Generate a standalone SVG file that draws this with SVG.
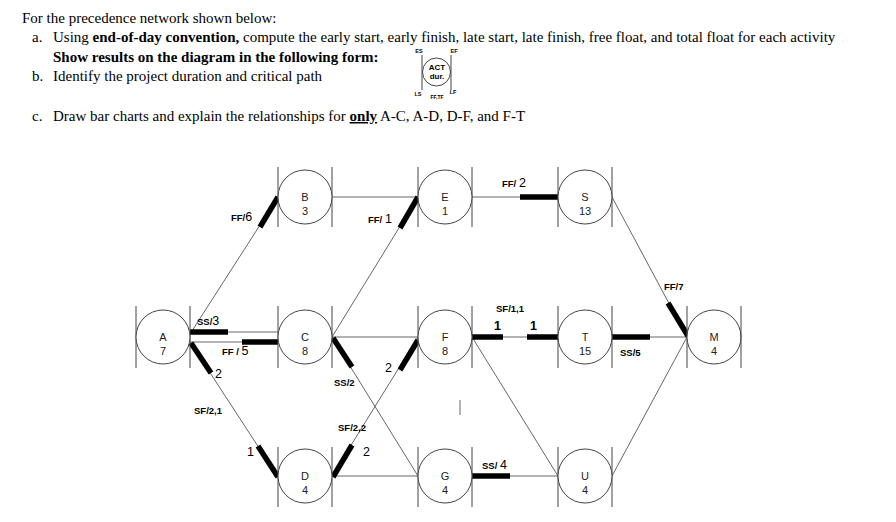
<svg xmlns="http://www.w3.org/2000/svg" width="896" height="522" viewBox="0 0 896 522">
<style>
.t{font-family:"Liberation Serif",serif;font-size:15px;fill:#000}
.b{font-weight:bold}
.c{fill:#fff;stroke:#444;stroke-width:1}
.v{stroke:#444;stroke-width:1}
.n{font-family:"Liberation Sans",Arial,sans-serif;font-size:11px;text-anchor:middle;fill:#222}
.l{stroke:#555;stroke-width:0.9;fill:none}
.k{stroke:#000;stroke-width:5.5;stroke-linecap:butt}
.lb{font-family:"Liberation Sans",Arial,sans-serif;font-size:9.5px;font-weight:bold;fill:#000}
.d{font-family:"Liberation Sans",Arial,sans-serif;font-size:12.5px;fill:#000}
.g{font-family:"Liberation Sans",Arial,sans-serif;font-weight:bold;fill:#000}
</style>
<rect width="896" height="522" fill="#fff"/>
<g id="header">
<text class="t" x="22" y="23">For the precedence network shown below:</text>
<text class="t" x="32" y="42">a.</text>
<text class="t" x="53" y="42">Using <tspan class="b">end-of-day convention,</tspan> compute the early start, early finish, late start, late finish, free float, and total float for each activity</text>
<text class="t b" x="53" y="62">Show results on the diagram in the following form:</text>
<text class="t" x="32" y="81">b.</text>
<text class="t" x="53" y="81">Identify the project duration and critical path</text>
<text class="t" x="32" y="121">c.</text>
<text class="t" x="53" y="121">Draw bar charts and explain the relationships for <tspan class="b" text-decoration="underline">only</tspan> A-C, A-D, D-F, and F-T</text>
</g>
<g id="legend">
<line class="v" x1="422" y1="55" x2="422" y2="90"/>
<line class="v" x1="451" y1="55" x2="451" y2="90"/>
<circle class="c" cx="436.5" cy="72" r="14"/>
<text class="g" x="437" y="70" font-size="8" text-anchor="middle">ACT</text>
<text class="g" x="437" y="79" font-size="8" text-anchor="middle">dur.</text>
<text class="g" x="419" y="53" font-size="5.5" text-anchor="middle">ES</text>
<text class="g" x="454" y="53" font-size="5.5" text-anchor="middle">EF</text>
<text class="g" x="418" y="96" font-size="5.5" text-anchor="middle">LS</text>
<text class="g" x="453" y="94" font-size="5.5" text-anchor="middle">LF</text>
<text class="g" x="437" y="99" font-size="5" text-anchor="middle">FF,TF</text>
</g>
<g id="connectors">
<line class="l" x1="190" y1="334" x2="278" y2="197"/>
<line class="l" x1="190" y1="332" x2="278" y2="332"/>
<line class="l" x1="190" y1="342" x2="278" y2="342"/>
<line class="l" x1="190" y1="342" x2="278" y2="477"/>
<line class="l" x1="332" y1="197" x2="418" y2="197"/>
<line class="l" x1="332" y1="337" x2="418" y2="197"/>
<line class="l" x1="332" y1="337" x2="418" y2="337"/>
<line class="l" x1="332" y1="337" x2="418" y2="476"/>
<line class="l" x1="332" y1="476" x2="418" y2="337"/>
<line class="l" x1="332" y1="476" x2="418" y2="476"/>
<line class="l" x1="472" y1="197" x2="558" y2="197"/>
<line class="l" x1="472" y1="337" x2="558" y2="337"/>
<line class="l" x1="472" y1="337" x2="558" y2="476"/>
<line class="l" x1="472" y1="476" x2="558" y2="476"/>
<line class="l" x1="612" y1="197" x2="687" y2="337"/>
<line class="l" x1="612" y1="337" x2="687" y2="337"/>
<line class="l" x1="612" y1="476" x2="687" y2="337"/>
<line class="l" x1="460" y1="400" x2="460" y2="415"/>
<line class="k" x1="260" y1="227" x2="278" y2="197"/>
<line class="k" x1="190" y1="332" x2="228" y2="332"/>
<line class="k" x1="242" y1="342" x2="278" y2="342"/>
<line class="k" x1="191" y1="343" x2="211" y2="373"/>
<line class="k" x1="258" y1="446" x2="278" y2="477"/>
<line class="k" x1="400" y1="228" x2="418" y2="197"/>
<line class="k" x1="333" y1="338" x2="352" y2="367"/>
<line class="k" x1="400" y1="370" x2="418" y2="340"/>
<line class="k" x1="333" y1="477" x2="352" y2="445"/>
<line class="k" x1="520" y1="197" x2="558" y2="197"/>
<line class="k" x1="465" y1="337" x2="503" y2="337"/>
<line class="k" x1="527" y1="337" x2="563" y2="337"/>
<line class="k" x1="472" y1="476" x2="510" y2="476"/>
<line class="k" x1="668" y1="303" x2="688" y2="336"/>
<line class="k" x1="612" y1="337" x2="650" y2="337"/>
<text class="lb" x="231" y="221">FF/<tspan class="d" font-size="13.5" font-weight="normal">6</tspan></text>
<text class="lb" x="197" y="325">SS/<tspan class="d" font-weight="normal">3</tspan></text>
<text class="lb" x="222" y="355">FF / <tspan class="d" font-weight="normal">5</tspan></text>
<text class="d" x="215" y="378">2</text>
<text class="lb" x="194" y="414">SF/2,1</text>
<text class="d" x="247" y="456">1</text>
<text class="lb" x="368" y="223">FF/ <tspan class="d" font-weight="normal">1</tspan></text>
<text class="d" x="385" y="372">2</text>
<text class="lb" x="334" y="386">SS/2</text>
<text class="lb" x="338" y="431">SF/2,2</text>
<text class="d" x="363" y="456">2</text>
<text class="lb" x="502" y="187">FF/ <tspan class="d" font-weight="normal">2</tspan></text>
<text class="lb" x="496" y="312">SF/1,1</text>
<text class="d" x="494" y="330" font-weight="bold">1</text>
<text class="d" x="530" y="330" font-weight="bold">1</text>
<text class="lb" x="482" y="469">SS/ <tspan class="d" font-weight="normal">4</tspan></text>
<text class="lb" x="620" y="356">SS/5</text>
<text class="lb" x="664" y="290">FF/7</text>
</g>
<g id="A"><line class="v" x1="136" y1="306" x2="136" y2="368"/><line class="v" x1="190" y1="306" x2="190" y2="368"/><circle class="c" cx="163" cy="337" r="27"/><text class="n" x="163" y="341">A</text><text class="n" x="163" y="355">7</text></g>
<g id="B"><line class="v" x1="278" y1="167" x2="278" y2="227"/><line class="v" x1="332" y1="167" x2="332" y2="227"/><circle class="c" cx="305" cy="197" r="27"/><text class="n" x="305" y="201">B</text><text class="n" x="305" y="215">3</text></g>
<g id="C"><line class="v" x1="278" y1="306" x2="278" y2="368"/><line class="v" x1="332" y1="306" x2="332" y2="368"/><circle class="c" cx="305" cy="337" r="27"/><text class="n" x="305" y="341">C</text><text class="n" x="305" y="355">8</text></g>
<g id="D"><line class="v" x1="278" y1="447" x2="278" y2="507"/><line class="v" x1="332" y1="447" x2="332" y2="507"/><circle class="c" cx="305" cy="476" r="27"/><text class="n" x="305" y="480">D</text><text class="n" x="305" y="494">4</text></g>
<g id="E"><line class="v" x1="418" y1="167" x2="418" y2="227"/><line class="v" x1="472" y1="167" x2="472" y2="227"/><circle class="c" cx="445" cy="197" r="27"/><text class="n" x="445" y="201">E</text><text class="n" x="445" y="215">1</text></g>
<g id="F"><line class="v" x1="418" y1="306" x2="418" y2="368"/><line class="v" x1="472" y1="306" x2="472" y2="368"/><circle class="c" cx="445" cy="337" r="27"/><text class="n" x="445" y="341">F</text><text class="n" x="445" y="355">8</text></g>
<g id="G"><line class="v" x1="418" y1="447" x2="418" y2="507"/><line class="v" x1="472" y1="447" x2="472" y2="507"/><circle class="c" cx="445" cy="476" r="27"/><text class="n" x="445" y="480">G</text><text class="n" x="445" y="494">4</text></g>
<g id="S"><line class="v" x1="558" y1="167" x2="558" y2="227"/><line class="v" x1="612" y1="167" x2="612" y2="227"/><circle class="c" cx="585" cy="197" r="27"/><text class="n" x="585" y="201">S</text><text class="n" x="585" y="215">13</text></g>
<g id="T"><line class="v" x1="558" y1="306" x2="558" y2="368"/><line class="v" x1="612" y1="306" x2="612" y2="368"/><circle class="c" cx="585" cy="337" r="27"/><text class="n" x="585" y="341">T</text><text class="n" x="585" y="355">15</text></g>
<g id="U"><line class="v" x1="558" y1="447" x2="558" y2="507"/><line class="v" x1="612" y1="447" x2="612" y2="507"/><circle class="c" cx="585" cy="476" r="27"/><text class="n" x="585" y="480">U</text><text class="n" x="585" y="494">4</text></g>
<g id="M"><line class="v" x1="687" y1="306" x2="687" y2="368"/><circle class="c" cx="714" cy="337" r="27"/><text class="n" x="714" y="341">M</text><text class="n" x="714" y="355">4</text></g>
<g id="Mbar"><line class="v" x1="741" y1="306" x2="741" y2="368"/></g>
</svg>
